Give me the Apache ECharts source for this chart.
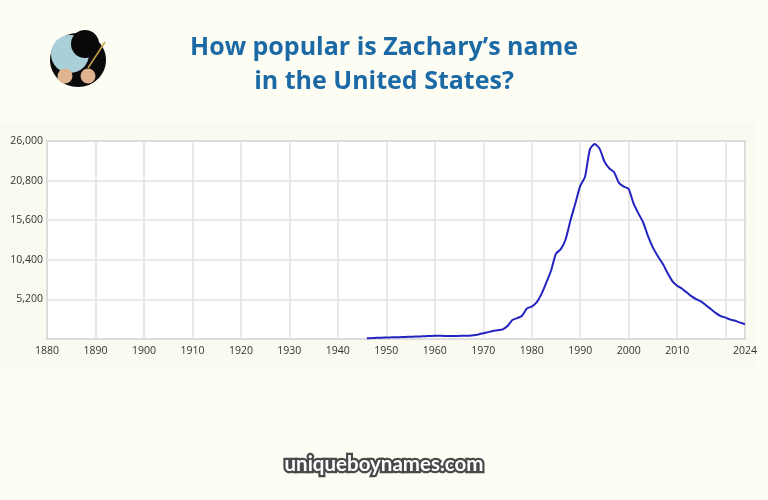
<!DOCTYPE html>
<html>
<head>
<meta charset="utf-8">
<script src="https://cdn.jsdelivr.net/npm/echarts@6/dist/echarts.min.js"></script>
<style>
html,body{margin:0;padding:0;background:#fdfdf4;}
#chart{width:768px;height:500px;}
</style>
</head>
<body>
<div id="chart"></div>
<script>
const years = [1946,1947,1948,1949,1950,1951,1952,1953,1954,1955,1956,1957,1958,1959,
  1960,1961,1962,1963,1964,1965,1966,1967,1968,1969,1970,1971,1972,1973,1974,1975,1976,1977,1978,1979,
  1980,1981,1982,1983,1984,1985,1986,1987,1988,1989,1990,1991,1992,1993,1994,1995,1996,1997,1998,1999,
  2000,2001,2002,2003,2004,2005,2006,2007,2008,2009,2010,2011,2012,2013,2014,2015,2016,2017,2018,2019,
  2020,2021,2022,2023,2024];
const births = [100,120,150,180,200,220,240,250,270,300,320,340,360,400,
  430,420,410,400,400,410,420,440,480,600,750,900,1050,1150,1270,1700,2500,2750,3050,4000,
  4250,4800,5900,7400,9000,11200,11800,13100,15600,17800,20100,21300,24900,25600,25000,23300,22400,21900,20500,20000,
  19700,17800,16500,15300,13500,12000,10900,9900,8700,7600,7000,6600,6100,5600,5200,4900,4400,3900,3400,3000,
  2800,2550,2400,2150,1950];
const titleText = 'How popular is Zachary’s name\nin the United States?';
const watermark = 'uniqueboynames.com';
const yTicks = [0,5200,10400,15600,20800,26000];

const chart = echarts.init(document.getElementById('chart'));
chart.setOption({
  backgroundColor: '#fdfdf4',
  animation: false,
  title: {
    text: titleText,
    left: 'center',
    top: 26,
    textStyle: {fontFamily: 'Open Sans', fontWeight: 'bold', fontSize: 25, color: '#1b6aa6', lineHeight: 34}
  },
  graphic: [
    {type:'rect', shape:{x:0,y:122,width:756,height:246}, style:{fill:'#fafaf0'}, z:-10},
    {type:'ellipse', shape:{cx:78,cy:60,rx:28,ry:27}, style:{fill:'#0a0a0a'}},
    {type:'circle', shape:{cx:70,cy:54,r:19}, style:{fill:'#a9cfd9'}},
    {type:'circle', shape:{cx:85,cy:44,r:14}, style:{fill:'#0a0a0a'}},
    {type:'line', shape:{x1:88,y1:68,x2:105,y2:42}, style:{stroke:'#c9a24a', lineWidth:1.5}},
    {type:'circle', shape:{cx:65,cy:76,r:7.5}, style:{fill:'#e0b48e'}},
    {type:'circle', shape:{cx:88,cy:76,r:7.5}, style:{fill:'#e0b48e'}},
    {type:'text', left:'center', top:452, style:{text: watermark, fontFamily:'Lato', fontWeight:'bold', fontSize:20.5,
      fill:'#ffffff', stroke:'#4a4a4a', lineWidth:4.5}}
  ],
  grid: {left:47, right:23, top:141, bottom:161, show:true, backgroundColor:'#ffffff', borderColor:'#cccccc', borderWidth:2},
  xAxis: {
    type:'value', min:1880, max:2024, interval:10,
    axisLine:{show:false}, axisTick:{show:false},
    splitLine:{show:true, lineStyle:{color:'#e2e2e2', width:1.5}},
    axisLabel:{color:'#333', fontFamily:'Open Sans', fontSize:10.5, margin:7,
      formatter: v => v === 2020 ? '' : String(v)}
  },
  yAxis: {
    type:'value', min:yTicks[0], max:yTicks[yTicks.length-1], interval:5200,
    axisLine:{show:false}, axisTick:{show:false},
    splitLine:{show:true, lineStyle:{color:'#e2e2e2', width:1.5}},
    axisLabel:{color:'#333', fontFamily:'Open Sans', fontSize:10.5, margin:4,
      formatter: v => v === 0 ? '' : v.toLocaleString('en-US')}
  },
  series: [{
    type:'line', data: years.map((y,i)=>[y, births[i]]), showSymbol:false,
    lineStyle:{color:'#2323c0', width:2}, smooth:0.2
  }]
});
</script>
</body>
</html>
